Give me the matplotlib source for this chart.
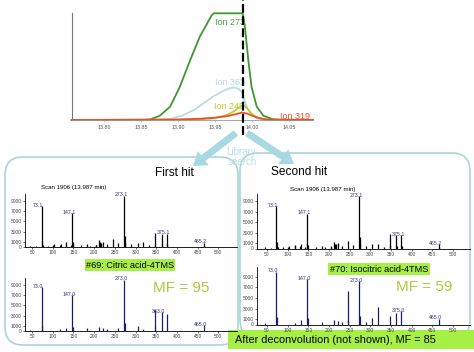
import numpy as np
import matplotlib
matplotlib.use('Agg')
import matplotlib.pyplot as plt
from matplotlib.patches import FancyBboxPatch, FancyArrow, Rectangle

plt.rcParams['font.family'] = ['Liberation Sans', 'DejaVu Sans']

# chromatogram traces (retention time in min, relative intensity)
rt_273 = [13.756, 13.850, 13.862, 13.875, 13.889, 13.902, 13.916, 13.929, 13.941, 13.945, 13.948,
          13.987, 13.990, 13.9946, 13.999, 14.006, 14.015, 14.028, 14.040, 14.082]
int_273 = [0, 0, 0.005, 0.04, 0.125, 0.31, 0.56, 0.78, 0.93, 0.98, 1.0,
           1.0, 0.875, 0.56, 0.31, 0.125, 0.04, 0.006, 0, 0]
rt_363 = [13.756, 13.870, 13.889, 13.905, 13.920, 13.935, 13.947, 13.960, 13.970, 13.976,
          13.982, 13.986, 13.990, 13.994, 13.999, 14.006, 14.015, 14.082]
int_363 = [0, 0, 0.01, 0.04, 0.09, 0.16, 0.22, 0.27, 0.30, 0.305,
           0.29, 0.26, 0.17, 0.10, 0.05, 0.015, 0, 0]
rt_245 = [13.756, 13.930, 13.950, 13.965, 13.975, 13.983, 13.988, 13.993, 13.999, 14.006, 14.015, 14.082]
int_245 = [0, 0.005, 0.02, 0.045, 0.08, 0.12, 0.14, 0.11, 0.06, 0.025, 0.005, 0]
rt_319 = [13.756, 13.900, 13.930, 13.950, 13.965, 13.978, 13.986, 13.993, 14.000, 14.008, 14.020, 14.082]
int_319 = [0, 0.004, 0.012, 0.022, 0.035, 0.055, 0.07, 0.06, 0.04, 0.02, 0.004, 0]
scan_rt = 13.987

# observed spectrum, scan 1906
scan_mz = [45, 59, 73, 75, 77, 89, 100, 103, 117, 119, 131, 133, 143, 147, 148, 149, 169, 183, 191,
           204, 205, 211, 215, 217, 221, 231, 245, 257, 273, 274, 275, 289, 305, 319, 333,
           347, 348, 363, 364, 375, 376, 465, 466]
scan_int = [250, 150, 8000, 1200, 300, 200, 300, 500, 400, 600, 400, 900, 300, 6600, 1000, 600, 300, 500, 200,
            400, 300, 1300, 900, 800, 1000, 500, 1500, 700, 10000, 2200, 900, 500, 800, 900, 300,
            2800, 600, 2600, 500, 2600, 500, 850, 200]
scan_lab_mz = [73, 147, 273, 375, 465]
scan_lab = ['73.1', '147.1', '273.1', '375.1', '465.2']

# library hit 1: citric acid-4TMS
cit_mz = [45, 73, 75, 117, 133, 147, 149, 183, 211, 221, 231, 257, 273, 274, 305, 319, 347, 348, 363, 375, 465]
cit_int = [200, 8500, 900, 300, 500, 7000, 800, 600, 700, 500, 400, 500, 10000, 1500, 900, 300, 4000, 700, 3600,
           3300, 1200]
cit_lab_mz = [73, 147, 273, 363, 465]
cit_lab = ['73.0', '147.0', '273.0', '363.0', '465.0']

# library hit 2: isocitric acid-4TMS
iso_mz = [45, 73, 75, 117, 133, 147, 149, 183, 211, 221, 231, 245, 247, 273, 274, 289, 305, 319, 347, 363,
          375, 465]
iso_int = [300, 10000, 1500, 300, 800, 8600, 1300, 500, 800, 600, 500, 6300, 900, 8200, 1600, 500, 1300, 3300,
           1700, 2100, 2500, 1100]
iso_lab_mz = [73, 147, 273, 375, 465]
iso_lab = ['73.0', '147.0', '273.0', '375.0', '465.0']

W, H = 474, 352
fig = plt.figure(figsize=(4.74, 3.52), dpi=100)


def px_axes(x0, y0, x1, y1):
    return fig.add_axes([x0 / W, 1 - y1 / H, (x1 - x0) / W, (y1 - y0) / H])


# overlay in pixel coordinates for boxes, arrows and captions
ov = px_axes(0, 0, W, H)
ov.set_xlim(0, W)
ov.set_ylim(H, 0)
ov.axis('off')

box_col = '#a9d5d8'
ov.add_patch(FancyBboxPatch((5, 157), 233, 188, boxstyle='round,pad=0,rounding_size=18',
                            fc='none', ec=box_col, lw=1.2))
ov.add_patch(FancyBboxPatch((240, 153), 230, 185, boxstyle='round,pad=0,rounding_size=18',
                            fc='none', ec=box_col, lw=1.2))

arrow_col = '#a8d8e2'
ov.add_patch(FancyArrow(236, 133, -43, 33, width=7, head_width=18, head_length=13,
                        length_includes_head=True, color=arrow_col, lw=0))
ov.add_patch(FancyArrow(247, 133, 47, 31, width=7, head_width=18, head_length=13,
                        length_includes_head=True, color=arrow_col, lw=0))
ov.text(241, 152, 'Library', ha='center', va='center', fontsize=7, color='#b7dee6')
ov.text(242, 162, 'search', ha='center', va='center', fontsize=7, color='#b7dee6')

ov.text(174, 173, 'First hit', ha='center', va='center', fontsize=8.6)
ov.text(299, 172, 'Second hit', ha='center', va='center', fontsize=8.6)
ov.text(74, 188, 'Scan 1906 (13.987 min)', ha='center', va='center', fontsize=4.4)
ov.text(323, 189, 'Scan 1906 (13.987 min)', ha='center', va='center', fontsize=4.4)

lime = '#a6ef45'
ov.text(130, 265, '#69: Citric acid-4TMS', ha='center', va='center', fontsize=6.6,
        bbox=dict(boxstyle='square,pad=0.15', fc=lime, ec='none'))
ov.text(379, 269, '#70: Isocitric acid-4TMS', ha='center', va='center', fontsize=6.6,
        bbox=dict(boxstyle='square,pad=0.15', fc=lime, ec='none'))
mf_col = '#b5c53e'
ov.text(181, 288, 'MF = 95', ha='center', va='center', fontsize=11, color=mf_col)
ov.text(424, 287, 'MF = 59', ha='center', va='center', fontsize=11, color=mf_col)

ov.add_patch(Rectangle((228, 330), 246, 19, fc=lime, ec='none'))
ov.text(235, 340, 'After deconvolution (not shown), MF = 85', ha='left', va='center', fontsize=7.8)

# chromatogram
ax = px_axes(71.7, 13.3, 313, 120)
ax.set_facecolor('none')
ax.plot(rt_363, int_363, color='#b8dbe4', lw=1.3, clip_on=False)
ax.plot(rt_245, int_245, color='#bccd2a', lw=1.3, clip_on=False)
ax.plot(rt_273, int_273, color='#3f982f', lw=1.3, clip_on=False)
ax.plot(rt_319, int_319, color='#e8502a', lw=1.3, clip_on=False)
ax.axvline(scan_rt, ymin=-0.14, ymax=1.13, color='black', lw=1.6, ls=(0, (4, 1.5)), clip_on=False, zorder=5)
ax.text(13.9496, 0.91, 'Ion 273', color='#4d9a3b', fontsize=6.5, va='center')
ax.text(13.9496, 0.35, 'Ion 363', color='#b5d9e2', fontsize=6.5, va='center')
ax.text(13.948, 0.13, 'Ion 245', color='#bccd2a', fontsize=6.5, va='center')
ax.text(14.037, 0.03, 'Ion 319', color='#e8542c', fontsize=6.5, va='center')
ax.set_xlim(13.756, 14.082)
ax.set_ylim(0, 1.0)
ax.set_xticks([13.80, 13.85, 13.90, 13.95, 14.00, 14.05])
ax.set_xticklabels(['13.80', '13.85', '13.90', '13.95', '14.00', '14.05'])
ax.set_yticks([])
for s in ['top', 'right']:
    ax.spines[s].set_visible(False)
ax.spines['left'].set_color('#777777')
ax.spines['bottom'].set_color('#999999')
ax.spines['left'].set_linewidth(0.8)
ax.spines['bottom'].set_linewidth(0.6)
ax.tick_params(axis='x', labelsize=3.8, length=1.5, width=0.4, pad=2, colors='#999999', labelcolor='#555555')


def spectrum(rect, mz, inten, lab_mz, labs, color, xlim, ytop):
    a = px_axes(*rect)
    a.set_facecolor('none')
    a.vlines(mz, 0, inten, color=color, lw=0.9)
    for m, t in zip(lab_mz, labs):
        a.text(m - 8, inten[mz.index(m)] + 150, t, ha='center', va='center', fontsize=3.8, color='#33337f')
    a.set_xlim(*xlim)
    a.set_ylim(0, ytop)
    a.set_xticks([50, 100, 150, 200, 250, 300, 350, 400, 450, 500])
    a.set_xticks(np.arange(40, 541, 10), minor=True)
    a.set_yticks([0, 1000, 3000, 5000, 7000, 9000])
    for s in ['top', 'right']:
        a.spines[s].set_visible(False)
    for s in ['left', 'bottom']:
        a.spines[s].set_linewidth(0.6)
    a.tick_params(labelsize=3.5, length=1.5, width=0.4, pad=1, labelcolor='#444444')
    a.tick_params(which='minor', length=0.8, width=0.3)
    return a


spectrum((25, 194, 237, 247), scan_mz, scan_int, scan_lab_mz, scan_lab, 'black', (33, 545), 10340)
spectrum((25, 278, 237, 331), cit_mz, cit_int, cit_lab_mz, cit_lab, '#1c1c6e', (33, 545), 10300)
spectrum((257, 194, 470, 248.5), scan_mz, scan_int, scan_lab_mz, scan_lab, 'black', (26, 541), 10340)
spectrum((257, 267, 470, 324.5), iso_mz, iso_int, iso_lab_mz, iso_lab, '#1c1c6e', (26, 541), 10870)

fig.savefig('out.png', dpi=100)
